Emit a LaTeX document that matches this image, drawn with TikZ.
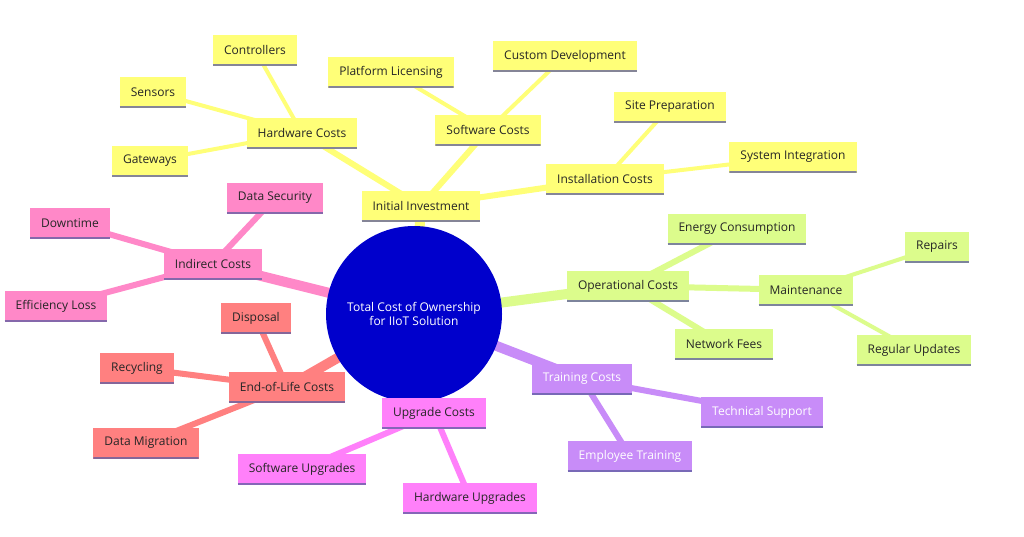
\documentclass[tikz,border=0pt]{standalone}
\usepackage{fontspec}
\setmainfont{Open Sans}
\begin{document}
\begin{tikzpicture}[x=1pt,y=-1pt,
 every node/.style={font=\fontsize{12}{14}\selectfont},
 box/.style={rectangle,fill=#1,inner xsep=11pt,minimum height=31pt,text=black!85,
   path picture={\draw[line width=2.5pt,draw=#1!55!blue!45!gray] (path picture bounding box.south west)--(path picture bounding box.south east);}},
 e1/.style={line width=10pt,draw=#1},
 e2/.style={line width=6pt,draw=#1},
 e3/.style={line width=4pt,draw=#1}]
\definecolor{cy}{HTML}{FFFF78}
\definecolor{cg}{HTML}{DCFC8C}
\definecolor{cp}{HTML}{C88CF8}
\definecolor{cm}{HTML}{FF80FA}
\definecolor{cs}{HTML}{FF8080}
\definecolor{ci}{HTML}{FF88C8}
\definecolor{root}{HTML}{0000CC}
\useasboundingbox (0,0) rectangle (1024,536);
\fill[white] (0,0) rectangle (1024,536);
% coordinates
\coordinate (r) at (414,314);
\coordinate (ii) at (421,206);\coordinate (hw) at (302,133);\coordinate (sw) at (488,130);\coordinate (ins) at (605,179);
\coordinate (ctl) at (255,50);\coordinate (sen) at (153,92);\coordinate (gw) at (150,161);
\coordinate (pl) at (391,72);\coordinate (cd) at (565,56);\coordinate (sp) at (670,107);\coordinate (si) at (793,157);
\coordinate (oc) at (628,286);\coordinate (ec) at (737,229);\coordinate (nf) at (724,344);\coordinate (mt) at (806,290);
\coordinate (rp) at (937,247);\coordinate (ru) at (914,350);
\coordinate (tc) at (582,379);\coordinate (ts) at (762,412);\coordinate (et) at (630,456);
\coordinate (uc) at (434,413);\coordinate (su) at (302,469);\coordinate (hu) at (470,498);
\coordinate (el) at (287,387);\coordinate (dp) at (256,318);\coordinate (rc) at (137,368);\coordinate (dm) at (146,443);
\coordinate (ic) at (213,264);\coordinate (ds) at (275,198);\coordinate (dt) at (70,223);\coordinate (ef) at (56,306);
% edges
\draw[e1=cy] (r)--(ii); \draw[e2=cy] (ii)--(hw); \draw[e2=cy] (ii)--(sw); \draw[e2=cy] (ii)--(ins);
\draw[e3=cy] (hw)--(ctl); \draw[e3=cy] (hw)--(sen); \draw[e3=cy] (hw)--(gw);
\draw[e3=cy] (sw)--(pl); \draw[e3=cy] (sw)--(cd); \draw[e3=cy] (ins)--(sp); \draw[e3=cy] (ins)--(si);
\draw[e1=cg] (r)--(oc); \draw[e2=cg] (oc)--(ec); \draw[e2=cg] (oc)--(nf); \draw[e2=cg] (oc)--(mt);
\draw[e3=cg] (mt)--(rp); \draw[e3=cg] (mt)--(ru);
\draw[e1=cp] (r)--(tc); \draw[e2=cp] (tc)--(ts); \draw[e2=cp] (tc)--(et);
\draw[e1=cm] (r)--(uc); \draw[e2=cm] (uc)--(su); \draw[e2=cm] (uc)--(hu);
\draw[e1=cs] (r)--(el); \draw[e2=cs] (el)--(dp); \draw[e2=cs] (el)--(rc); \draw[e2=cs] (el)--(dm);
\draw[e1=ci] (r)--(ic); \draw[e2=ci] (ic)--(ds); \draw[e2=ci] (ic)--(dt); \draw[e2=ci] (ic)--(ef);
% nodes
\node[circle,fill=root,minimum size=176pt,text=white,align=center] (nr) at (r) {Total Cost of Ownership\\for IIoT Solution};
\node[box=cy] (nii) at (ii) {Initial Investment};
\node[box=cy] (nhw) at (hw) {Hardware Costs};
\node[box=cy] (nsw) at (sw) {Software Costs};
\node[box=cy] (nins) at (ins) {Installation Costs};
\node[box=cy] (nctl) at (ctl) {Controllers};
\node[box=cy] (nsen) at (sen) {Sensors};
\node[box=cy] (ngw) at (gw) {Gateways};
\node[box=cy] (npl) at (pl) {Platform Licensing};
\node[box=cy] (ncd) at (cd) {Custom Development};
\node[box=cy] (nsp) at (sp) {Site Preparation};
\node[box=cy] (nsi) at (si) {System Integration};
\node[box=cg] (noc) at (oc) {Operational Costs};
\node[box=cg] (nec) at (ec) {Energy Consumption};
\node[box=cg] (nnf) at (nf) {Network Fees};
\node[box=cg] (nmt) at (mt) {Maintenance};
\node[box=cg] (nrp) at (rp) {Repairs};
\node[box=cg] (nru) at (ru) {Regular Updates};
\node[box=cp,text=white] (ntc) at (tc) {Training Costs};
\node[box=cp,text=white] (nts) at (ts) {Technical Support};
\node[box=cp,text=white] (net) at (et) {Employee Training};
\node[box=cm] (nuc) at (uc) {Upgrade Costs};
\node[box=cm] (nsu) at (su) {Software Upgrades};
\node[box=cm] (nhu) at (hu) {Hardware Upgrades};
\node[box=cs] (nel) at (el) {End-of-Life Costs};
\node[box=cs] (ndp) at (dp) {Disposal};
\node[box=cs] (nrc) at (rc) {Recycling};
\node[box=cs] (ndm) at (dm) {Data Migration};
\node[box=ci] (nic) at (ic) {Indirect Costs};
\node[box=ci] (nds) at (ds) {Data Security};
\node[box=ci] (ndt) at (dt) {Downtime};
\node[box=ci] (nef) at (ef) {Efficiency Loss};
\end{tikzpicture}
\end{document}
